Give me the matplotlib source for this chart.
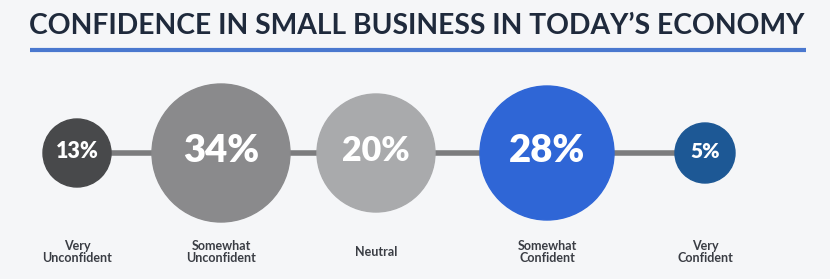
import matplotlib.pyplot as plt
from matplotlib.patches import Circle

title = "CONFIDENCE IN SMALL BUSINESS IN TODAY\u2019S ECONOMY"
categories = ["Very\nUnconfident", "Somewhat\nUnconfident", "Neutral", "Somewhat\nConfident", "Very\nConfident"]
shares = [13, 34, 20, 28, 5]

# layout / style
xpos = [77, 221, 376, 547, 705]
radii = [34, 69, 59, 67, 30]
colors = ["#48494b", "#8a8a8c", "#a9aaac", "#2f66d6", "#1d5895"]
font_sizes = [15.5, 27.5, 24.5, 27.5, 15]
bg = "#f5f6f8"
cy = 153

plt.rcParams['font.family'] = ['Lato', 'DejaVu Sans']

fig = plt.figure(figsize=(8.30, 2.79), dpi=100, facecolor=bg)
ax = fig.add_axes([0, 0, 1, 1])
ax.set_facecolor(bg)
ax.set_xlim(0, 830)
ax.set_ylim(279, 0)
ax.axis('off')

ax.text(417, 26, title, ha='center', va='center', fontsize=20.3,
        fontweight='bold', color='#1f2a3c')
ax.plot([30, 806], [50, 50], color='#4a78cf', lw=3, solid_capstyle='butt')

ax.plot([xpos[0], xpos[-1]], [cy, cy], color='#7c7c7e', lw=4, zorder=1)

for x, r, c, v, fs, lab in zip(xpos, radii, colors, shares, font_sizes, categories):
    ax.add_patch(Circle((x, cy), r, color=c, zorder=2))
    ax.text(x, cy - 2, f"{v}%", ha='center', va='center', color='white',
            fontsize=fs, fontweight='heavy', zorder=3)
    ax.text(x, 252, lab, ha='center', va='center', color='#3a3d44',
            fontsize=9, fontweight='bold', linespacing=1.0)

fig.savefig("out.png", dpi=100, facecolor=bg)
